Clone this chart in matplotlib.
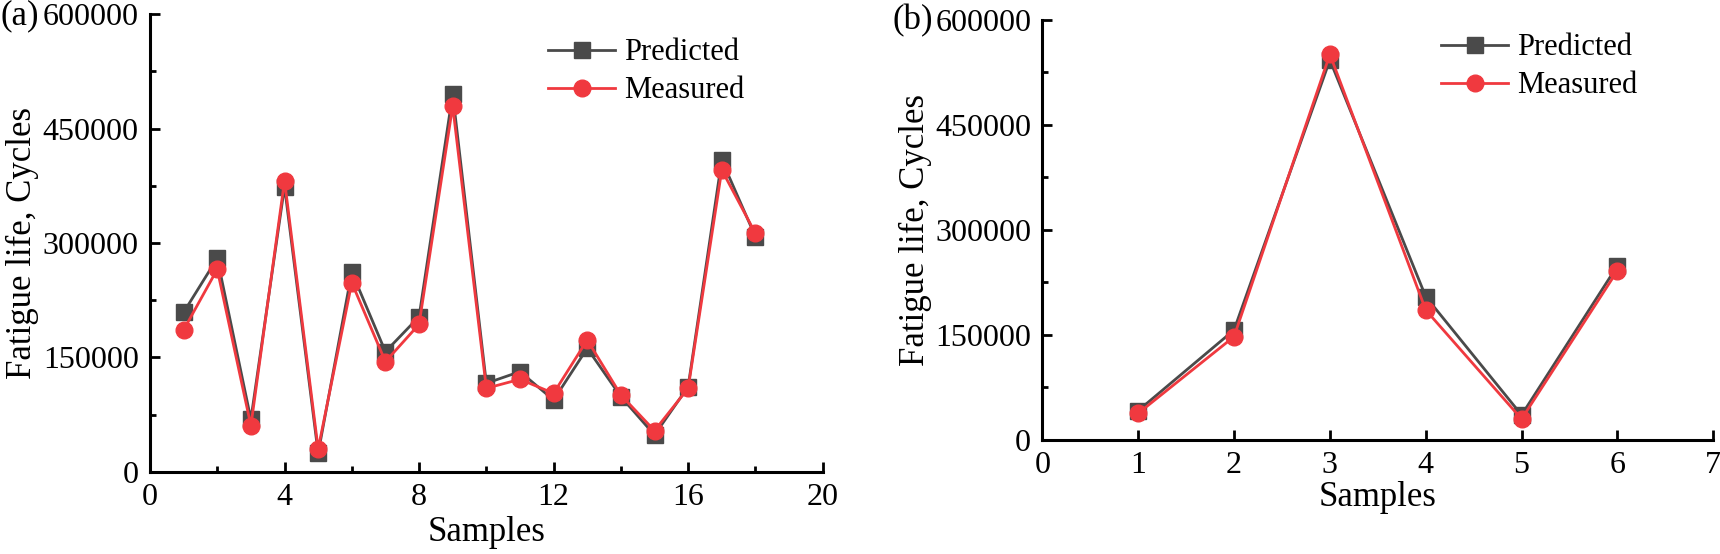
import numpy as np
import matplotlib
matplotlib.use('Agg')
import matplotlib.pyplot as plt
from matplotlib.ticker import MultipleLocator

plt.rcParams['font.family'] = ['Liberation Serif', 'DejaVu Serif']
plt.rcParams['font.size'] = 23

# panel (a)
samples_a = list(range(1, 19))
pred_a = [209000, 280000, 68700, 374000, 24100, 262000, 157400, 203300, 495500,
          116000, 131200, 94000, 161900, 98400, 48100, 111500, 408900, 308300]
meas_a = [185900, 265500, 60300, 381700, 29800, 247900, 144300, 193300, 479700,
          109400, 121200, 102800, 172800, 100600, 53800, 109400, 395800, 312700]

# panel (b)
samples_b = [1, 2, 3, 4, 5, 6]
pred_b = [41900, 157100, 542900, 204800, 35700, 249000]
meas_b = [38100, 147600, 551000, 185700, 30000, 241900]

gray = '#4a4a4a'
red = '#f0393f'
tick_fs = 23
label_fs = 25
leg_fs = 22

fig = plt.figure(figsize=(17.2, 5.54), dpi=100)
ax1 = fig.add_axes([0.0872, 0.1486, 0.3911, 0.8256])
ax2 = fig.add_axes([0.6060, 0.2058, 0.3901, 0.7581])


def style(ax):
    for s in ['top', 'right']:
        ax.spines[s].set_visible(False)
    for s in ['left', 'bottom']:
        ax.spines[s].set_linewidth(2.2)
    ax.tick_params(which='major', direction='in', length=7.5, width=2, labelsize=tick_fs, pad=8)
    ax.tick_params(which='minor', direction='in', length=4, width=2)
    ax.set_ylim(0, 600000)
    ax.yaxis.set_major_locator(MultipleLocator(150000))
    ax.yaxis.set_minor_locator(MultipleLocator(75000))


for ax, xs, p, m in [(ax1, samples_a, pred_a, meas_a), (ax2, samples_b, pred_b, meas_b)]:
    ax.plot(xs, p, color=gray, lw=2, marker='s', ms=11.5, label='Predicted', clip_on=False)
    ax.plot(xs, m, color=red, lw=2, marker='o', ms=12, label='Measured', clip_on=False)
    style(ax)

ax1.set_xlim(0, 20)
ax1.xaxis.set_major_locator(MultipleLocator(4))
ax1.xaxis.set_minor_locator(MultipleLocator(2))
ax2.set_xlim(0, 7)
ax2.xaxis.set_major_locator(MultipleLocator(1))

ax1.set_xlabel('Samples', fontsize=label_fs, labelpad=3)
ax1.set_ylabel('Fatigue life, Cycles', fontsize=label_fs, labelpad=3)
ax2.set_xlabel('Samples', fontsize=label_fs, labelpad=1)
ax2.set_ylabel('Fatigue life, Cycles', fontsize=label_fs, labelpad=2)

ax1.legend(loc='upper left', bbox_to_anchor=(0.3186, 0.931), bbox_transform=fig.transFigure,
           frameon=False, borderpad=0, handlelength=2.2, handletextpad=0.3, labelspacing=0.3,
           fontsize=leg_fs, borderaxespad=0)
ax2.legend(loc='upper left', bbox_to_anchor=(0.8378, 0.940), bbox_transform=fig.transFigure,
           frameon=False, borderpad=0, handlelength=2.2, handletextpad=0.3, labelspacing=0.3,
           fontsize=leg_fs, borderaxespad=0)

fig.text(0.0, 0.972, '(a)', fontsize=label_fs, va='center', ha='left')
fig.text(0.519, 0.962, '(b)', fontsize=label_fs, va='center', ha='left')

fig.savefig('out.png', dpi=100)
